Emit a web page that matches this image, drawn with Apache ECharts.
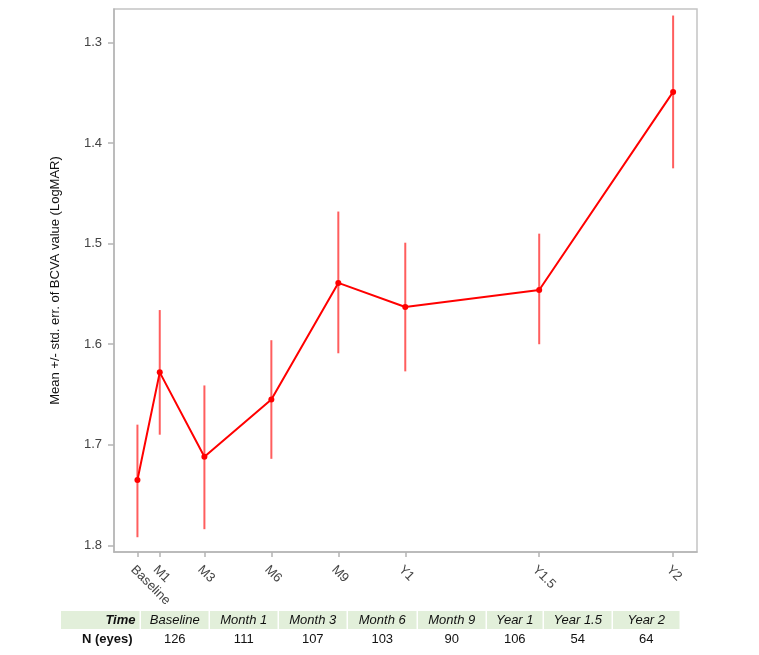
<!DOCTYPE html>
<html>
  <head>
    <meta charset="UTF-8" />
    <title>BCVA over time</title>
    <script type="text/javascript" src="https://cdn.jsdelivr.net/npm/echarts@6/dist/echarts.min.js"></script>
    <style>
      html, body { margin: 0; padding: 0; background: #fff; }
    </style>
  </head>

  <body>
    <div id="chart" style="height: 655px; width: 759px"></div>
    <script>
      // months after baseline for each visit
      var months = [0, 1, 3, 6, 9, 12, 18, 24];
      var tickLabels = ["Baseline", "M1", "M3", "M6", "M9", "Y1", "Y1.5", "Y2"];
      var means = [1.735, 1.628, 1.712, 1.655, 1.539, 1.563, 1.546, 1.349];
      var errLow = [1.680, 1.566, 1.641, 1.596, 1.468, 1.499, 1.490, 1.273];
      var errHigh = [1.792, 1.690, 1.784, 1.714, 1.609, 1.627, 1.600, 1.425];
      var yTicks = [1.3, 1.4, 1.5, 1.6, 1.7, 1.8];
      var tableTimes = ["Baseline", "Month 1", "Month 3", "Month 6", "Month 9", "Year 1", "Year 1.5", "Year 2"];
      var tableN = [126, 111, 107, 103, 90, 106, 54, 64];

      var font = "Liberation Sans, Arial, sans-serif";

      var lineData = [];
      var barData = [];
      for (var i = 0; i < months.length; i++) {
        lineData.push([months[i], means[i]]);
        barData.push([months[i], errLow[i], errHigh[i]]);
      }

      // table under the chart
      var cellEdges = [61, 141, 210, 279, 348, 418, 487, 544, 613, 681];
      var graphic = [];
      for (var c = 0; c < cellEdges.length - 1; c++) {
        var x0 = cellEdges[c];
        var w = cellEdges[c + 1] - x0 - 1.5;
        graphic.push({
          type: "rect",
          shape: { x: x0, y: 611, width: w, height: 18 },
          style: { fill: "#e2efda" },
          silent: true,
        });
        var head = c === 0 ? "Time" : tableTimes[c - 1];
        var val = c === 0 ? "N (eyes)" : String(tableN[c - 1]);
        var cx = c === 0 ? x0 + w - 4 : x0 + w / 2;
        var al = c === 0 ? "right" : "center";
        graphic.push({
          type: "text",
          x: cx,
          y: 620,
          style: {
            text: head,
            fontFamily: font,
            fontSize: 13,
            fontStyle: "italic",
            fontWeight: c === 0 ? "bold" : "normal",
            fill: "#111",
            align: al,
            verticalAlign: "middle",
          },
          silent: true,
        });
        graphic.push({
          type: "text",
          x: c === 0 ? x0 + w - 7 : cx,
          y: 639,
          style: {
            text: val,
            fontFamily: font,
            fontSize: 13,
            fontWeight: c === 0 ? "bold" : "normal",
            fill: "#111",
            align: al,
            verticalAlign: "middle",
          },
          silent: true,
        });
      }

      var option = {
        animation: false,
        backgroundColor: "#fff",
        grid: {
          left: 114,
          top: 9,
          right: 62,
          bottom: 103,
          show: true,
          borderColor: "#c4c4c4",
          borderWidth: 1.5,
        },
        xAxis: {
          type: "value",
          min: -1.05,
          max: 25.07,
          splitLine: { show: false },
          axisLine: { show: true, onZero: false, lineStyle: { color: "#b4b4b4", width: 1.5 } },
          axisTick: {
            show: true,
            length: 5,
            lineStyle: { color: "#b4b4b4", width: 1.5 },
            customValues: months,
          },
          axisLabel: {
            customValues: months,
            rotate: -45,
            margin: 11,
            verticalAlign: "top",
            color: "#444",
            fontFamily: font,
            fontSize: 13,
            formatter: function (v) {
              var k = months.indexOf(v);
              return k >= 0 ? tickLabels[k] : "";
            },
          },
        },
        yAxis: {
          type: "value",
          inverse: true,
          min: 1.2665,
          max: 1.8067,
          name: "Mean +/- std. err. of BCVA value (LogMAR)",
          nameLocation: "middle",
          nameGap: 52,
          nameTextStyle: { color: "#111", fontFamily: font, fontSize: 13 },
          splitLine: { show: false },
          axisLine: { show: true, onZero: false, lineStyle: { color: "#b4b4b4", width: 1.5 } },
          axisTick: {
            show: true,
            length: 6,
            lineStyle: { color: "#b4b4b4", width: 1.5 },
            customValues: yTicks,
          },
          axisLabel: {
            customValues: yTicks,
            margin: 12,
            color: "#444",
            fontFamily: font,
            fontSize: 13,
            formatter: function (v) {
              return v.toFixed(1);
            },
          },
        },
        series: [
          {
            type: "custom",
            z: 1,
            data: barData,
            renderItem: function (params, api) {
              var p1 = api.coord([api.value(0), api.value(1)]);
              var p2 = api.coord([api.value(0), api.value(2)]);
              return {
                type: "line",
                shape: { x1: p1[0], y1: p1[1], x2: p2[0], y2: p2[1] },
                style: { stroke: "rgba(255,40,40,0.75)", lineWidth: 2 },
              };
            },
          },
          {
            type: "line",
            z: 2,
            data: lineData,
            symbol: "circle",
            symbolSize: 6,
            itemStyle: { color: "#ff0000" },
            lineStyle: { color: "#ff0000", width: 2 },
          },
        ],
        graphic: graphic,
      };

      var myChart = echarts.init(document.getElementById("chart"));
      myChart.setOption(option);
    </script>
  </body>
</html>
